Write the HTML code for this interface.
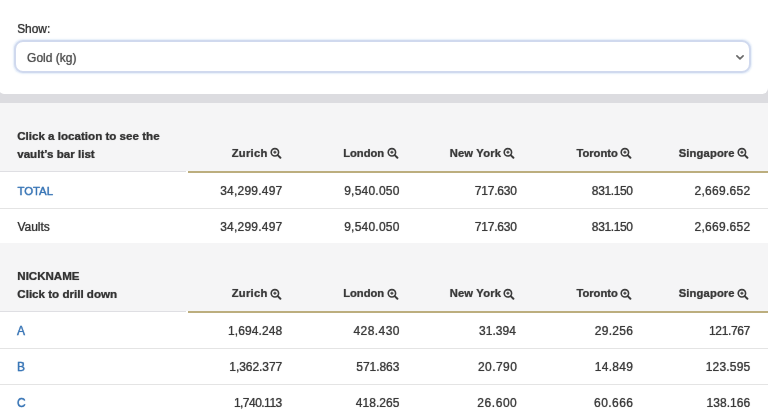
<!DOCTYPE html>
<html><head><meta charset="utf-8"><style>
html,body{margin:0;padding:0;}
body{width:768px;height:417px;overflow:hidden;position:relative;background:#fff;font-family:"Liberation Sans",sans-serif;}
#root{will-change:transform;position:absolute;left:0;top:0;width:768px;height:417px;overflow:hidden;background:#fff;}
.t{position:absolute;white-space:nowrap;}
.t,.ch{text-shadow:0 0 1px rgba(60,60,60,0.45);-webkit-text-stroke:0.2px currentColor;}
.lk{-webkit-text-stroke:0.3px currentColor;text-shadow:0 0 1px rgba(40,90,150,0.5);}
.sel{position:absolute;box-sizing:border-box;left:14.2px;top:40.3px;width:736.7px;height:32.6px;border:2px solid #d0d9ee;border-radius:9px;background:#fff;box-shadow:0 0 1.5px 0.5px rgba(210,225,245,0.6);}
.hd{position:absolute;left:0;width:768px;background:#f5f5f6;}
.gl{position:absolute;left:0;width:186px;height:1px;background:#dfdfe3;}
.gd{position:absolute;left:188px;width:580px;height:2px;background:#bcae7e;}
.rl{position:absolute;left:0;width:768px;height:1px;background:#e4e4e4;}
.ch{position:absolute;white-space:nowrap;font-size:11.2px;line-height:13px;font-weight:700;color:#3a3a3a;display:flex;align-items:center;}
.ic{margin-left:2.3px;}
</style></head><body><div id="root">
<div style="position:absolute;left:0;top:86px;width:768px;height:17px;background:#dcdce0"></div>
<div style="position:absolute;left:-1px;top:0;width:769px;height:94px;background:#fff;border-radius:0 0 6px 5px"></div>
<div class="t" style="left:17.2px;top:21.74px;font-size:11.9px;line-height:14.28px;font-weight:400;color:#333;">Show:</div>
<div class="sel"></div>
<div class="t" style="left:27.1px;top:50.94px;font-size:12px;line-height:14.4px;font-weight:400;color:#505050;">Gold (kg)</div>
<svg style="position:absolute;left:735px;top:54px" width="10" height="7" viewBox="0 0 10 7"><path d="M1.9 1.8 L5 4.8 L8.1 1.8" fill="none" stroke="#6a6a6a" stroke-width="1.7" stroke-linecap="round" stroke-linejoin="round"/></svg>
<div class="hd" style="top:103px;height:68px"></div>
<div class="gl" style="top:171px"></div><div class="gd" style="top:170.9px"></div>
<div class="t" style="left:17.2px;top:128.92px;font-size:11.6px;line-height:13.92px;font-weight:700;color:#333;">Click a location to see the</div>
<div class="t" style="left:17.2px;top:146.52px;font-size:11.6px;line-height:13.92px;font-weight:700;color:#333;">vault’s bar list</div>
<div class="ch" style="right:486.30px;top:146.92px"><span style="letter-spacing:0.3px;margin-right:-0.3px">Zurich</span><svg class="ic" width="12" height="12" viewBox="0 0 12 12"><circle cx="4.9" cy="5.3" r="3.7" fill="none" stroke="#3c3c3c" stroke-width="1.6"/><path d="M7.7 8.1 L10.4 10.7" stroke="#3c3c3c" stroke-width="2" stroke-linecap="round"/><path d="M3.4 5.3H6.4M4.9 3.8V6.8" stroke="#4a4a4a" stroke-width="1.4"/></svg></div>
<div class="ch" style="right:369.50px;top:146.92px"><span style="letter-spacing:0px;margin-right:0px">London</span><svg class="ic" width="12" height="12" viewBox="0 0 12 12"><circle cx="4.9" cy="5.3" r="3.7" fill="none" stroke="#3c3c3c" stroke-width="1.6"/><path d="M7.7 8.1 L10.4 10.7" stroke="#3c3c3c" stroke-width="2" stroke-linecap="round"/><path d="M3.4 5.3H6.4M4.9 3.8V6.8" stroke="#4a4a4a" stroke-width="1.4"/></svg></div>
<div class="ch" style="right:252.70px;top:146.92px"><span style="letter-spacing:0.2px;margin-right:-0.2px">New York</span><svg class="ic" width="12" height="12" viewBox="0 0 12 12"><circle cx="4.9" cy="5.3" r="3.7" fill="none" stroke="#3c3c3c" stroke-width="1.6"/><path d="M7.7 8.1 L10.4 10.7" stroke="#3c3c3c" stroke-width="2" stroke-linecap="round"/><path d="M3.4 5.3H6.4M4.9 3.8V6.8" stroke="#4a4a4a" stroke-width="1.4"/></svg></div>
<div class="ch" style="right:135.90px;top:146.92px"><span style="letter-spacing:0px;margin-right:0px">Toronto</span><svg class="ic" width="12" height="12" viewBox="0 0 12 12"><circle cx="4.9" cy="5.3" r="3.7" fill="none" stroke="#3c3c3c" stroke-width="1.6"/><path d="M7.7 8.1 L10.4 10.7" stroke="#3c3c3c" stroke-width="2" stroke-linecap="round"/><path d="M3.4 5.3H6.4M4.9 3.8V6.8" stroke="#4a4a4a" stroke-width="1.4"/></svg></div>
<div class="ch" style="right:19.10px;top:146.92px"><span style="letter-spacing:0.14px;margin-right:-0.14px">Singapore</span><svg class="ic" width="12" height="12" viewBox="0 0 12 12"><circle cx="4.9" cy="5.3" r="3.7" fill="none" stroke="#3c3c3c" stroke-width="1.6"/><path d="M7.7 8.1 L10.4 10.7" stroke="#3c3c3c" stroke-width="2" stroke-linecap="round"/><path d="M3.4 5.3H6.4M4.9 3.8V6.8" stroke="#4a4a4a" stroke-width="1.4"/></svg></div>
<div class="t lk" style="left:17.4px;top:184.81px;font-size:11.4px;line-height:13.68px;font-weight:400;color:#3a77b8;">TOTAL</div>
<div class="t n n0_0" style="right:485.80px;top:183.64px;font-size:12px;line-height:14.4px;font-weight:400;color:#3a3a3a;letter-spacing:0.211px;margin-right:-0.211px;">34,299.497</div>
<div class="t n n0_1" style="right:368.60px;top:183.64px;font-size:12px;line-height:14.4px;font-weight:400;color:#3a3a3a;letter-spacing:0.225px;margin-right:-0.225px;">9,540.050</div>
<div class="t n n0_2" style="right:251.20px;top:183.64px;font-size:12px;line-height:14.4px;font-weight:400;color:#3a3a3a;letter-spacing:-0.233px;margin-right:0.233px;">717.630</div>
<div class="t n n0_3" style="right:135.00px;top:183.64px;font-size:12px;line-height:14.4px;font-weight:400;color:#3a3a3a;letter-spacing:-0.367px;margin-right:0.367px;">831.150</div>
<div class="t n n0_4" style="right:17.80px;top:183.64px;font-size:12px;line-height:14.4px;font-weight:400;color:#3a3a3a;letter-spacing:0.300px;margin-right:-0.300px;">2,669.652</div>
<div class="t" style="left:17.4px;top:220.24px;font-size:12px;line-height:14.4px;font-weight:400;color:#333;">Vaults</div>
<div class="t n n1_0" style="right:485.80px;top:219.64px;font-size:12px;line-height:14.4px;font-weight:400;color:#3a3a3a;letter-spacing:0.211px;margin-right:-0.211px;">34,299.497</div>
<div class="t n n1_1" style="right:368.60px;top:219.64px;font-size:12px;line-height:14.4px;font-weight:400;color:#3a3a3a;letter-spacing:0.225px;margin-right:-0.225px;">9,540.050</div>
<div class="t n n1_2" style="right:251.20px;top:219.64px;font-size:12px;line-height:14.4px;font-weight:400;color:#3a3a3a;letter-spacing:-0.233px;margin-right:0.233px;">717.630</div>
<div class="t n n1_3" style="right:135.00px;top:219.64px;font-size:12px;line-height:14.4px;font-weight:400;color:#3a3a3a;letter-spacing:-0.367px;margin-right:0.367px;">831.150</div>
<div class="t n n1_4" style="right:17.80px;top:219.64px;font-size:12px;line-height:14.4px;font-weight:400;color:#3a3a3a;letter-spacing:0.300px;margin-right:-0.300px;">2,669.652</div>
<div class="rl" style="top:208px"></div>
<div class="hd" style="top:243px;height:68px"></div>
<div class="gl" style="top:310.9px;height:1.5px"></div><div class="gd" style="top:310.6px"></div>
<div class="t" style="left:17.3px;top:269.67px;font-size:11.55px;line-height:13.86px;font-weight:700;color:#333;">NICKNAME</div>
<div class="t" style="left:17.3px;top:287.02px;font-size:11.6px;line-height:13.92px;font-weight:700;color:#333;">Click to drill down</div>
<div class="ch" style="right:486.30px;top:287.42px"><span style="letter-spacing:0.3px;margin-right:-0.3px">Zurich</span><svg class="ic" width="12" height="12" viewBox="0 0 12 12"><circle cx="4.9" cy="5.3" r="3.7" fill="none" stroke="#3c3c3c" stroke-width="1.6"/><path d="M7.7 8.1 L10.4 10.7" stroke="#3c3c3c" stroke-width="2" stroke-linecap="round"/><path d="M3.4 5.3H6.4M4.9 3.8V6.8" stroke="#4a4a4a" stroke-width="1.4"/></svg></div>
<div class="ch" style="right:369.50px;top:287.42px"><span style="letter-spacing:0px;margin-right:0px">London</span><svg class="ic" width="12" height="12" viewBox="0 0 12 12"><circle cx="4.9" cy="5.3" r="3.7" fill="none" stroke="#3c3c3c" stroke-width="1.6"/><path d="M7.7 8.1 L10.4 10.7" stroke="#3c3c3c" stroke-width="2" stroke-linecap="round"/><path d="M3.4 5.3H6.4M4.9 3.8V6.8" stroke="#4a4a4a" stroke-width="1.4"/></svg></div>
<div class="ch" style="right:252.70px;top:287.42px"><span style="letter-spacing:0.2px;margin-right:-0.2px">New York</span><svg class="ic" width="12" height="12" viewBox="0 0 12 12"><circle cx="4.9" cy="5.3" r="3.7" fill="none" stroke="#3c3c3c" stroke-width="1.6"/><path d="M7.7 8.1 L10.4 10.7" stroke="#3c3c3c" stroke-width="2" stroke-linecap="round"/><path d="M3.4 5.3H6.4M4.9 3.8V6.8" stroke="#4a4a4a" stroke-width="1.4"/></svg></div>
<div class="ch" style="right:135.90px;top:287.42px"><span style="letter-spacing:0px;margin-right:0px">Toronto</span><svg class="ic" width="12" height="12" viewBox="0 0 12 12"><circle cx="4.9" cy="5.3" r="3.7" fill="none" stroke="#3c3c3c" stroke-width="1.6"/><path d="M7.7 8.1 L10.4 10.7" stroke="#3c3c3c" stroke-width="2" stroke-linecap="round"/><path d="M3.4 5.3H6.4M4.9 3.8V6.8" stroke="#4a4a4a" stroke-width="1.4"/></svg></div>
<div class="ch" style="right:19.10px;top:287.42px"><span style="letter-spacing:0.14px;margin-right:-0.14px">Singapore</span><svg class="ic" width="12" height="12" viewBox="0 0 12 12"><circle cx="4.9" cy="5.3" r="3.7" fill="none" stroke="#3c3c3c" stroke-width="1.6"/><path d="M7.7 8.1 L10.4 10.7" stroke="#3c3c3c" stroke-width="2" stroke-linecap="round"/><path d="M3.4 5.3H6.4M4.9 3.8V6.8" stroke="#4a4a4a" stroke-width="1.4"/></svg></div>
<div class="t lk" style="left:17.0px;top:324.24px;font-size:12px;line-height:14.4px;font-weight:400;color:#3a77b8;">A</div>
<div class="t n n2_0" style="right:485.80px;top:323.64px;font-size:12px;line-height:14.4px;font-weight:400;color:#3a3a3a;letter-spacing:0.100px;margin-right:-0.100px;">1,694.248</div>
<div class="t n n2_1" style="right:368.60px;top:323.64px;font-size:12px;line-height:14.4px;font-weight:400;color:#3a3a3a;letter-spacing:0.417px;margin-right:-0.417px;">428.430</div>
<div class="t n n2_2" style="right:252.20px;top:323.64px;font-size:12px;line-height:14.4px;font-weight:400;color:#3a3a3a;letter-spacing:0.020px;margin-right:-0.020px;">31.394</div>
<div class="t n n2_3" style="right:135.00px;top:323.64px;font-size:12px;line-height:14.4px;font-weight:400;color:#3a3a3a;letter-spacing:0.300px;margin-right:-0.300px;">29.256</div>
<div class="t n n2_4" style="right:17.80px;top:323.64px;font-size:12px;line-height:14.4px;font-weight:400;color:#3a3a3a;letter-spacing:-0.367px;margin-right:0.367px;">121.767</div>
<div class="t lk" style="left:17.0px;top:360.24px;font-size:12px;line-height:14.4px;font-weight:400;color:#3a77b8;">B</div>
<div class="t n n3_0" style="right:485.80px;top:359.64px;font-size:12px;line-height:14.4px;font-weight:400;color:#3a3a3a;letter-spacing:-0.062px;margin-right:0.062px;">1,362.377</div>
<div class="t n n3_1" style="right:368.60px;top:359.64px;font-size:12px;line-height:14.4px;font-weight:400;color:#3a3a3a;letter-spacing:-0.050px;margin-right:0.050px;">571.863</div>
<div class="t n n3_2" style="right:251.20px;top:359.64px;font-size:12px;line-height:14.4px;font-weight:400;color:#3a3a3a;letter-spacing:0.440px;margin-right:-0.440px;">20.790</div>
<div class="t n n3_3" style="right:135.00px;top:359.64px;font-size:12px;line-height:14.4px;font-weight:400;color:#3a3a3a;letter-spacing:0.320px;margin-right:-0.320px;">14.849</div>
<div class="t n n3_4" style="right:17.80px;top:359.64px;font-size:12px;line-height:14.4px;font-weight:400;color:#3a3a3a;letter-spacing:0.183px;margin-right:-0.183px;">123.595</div>
<div class="t lk" style="left:17.0px;top:396.24px;font-size:12px;line-height:14.4px;font-weight:400;color:#3a77b8;">C</div>
<div class="t n n4_0" style="right:485.80px;top:395.64px;font-size:12px;line-height:14.4px;font-weight:400;color:#3a3a3a;letter-spacing:-0.525px;margin-right:0.525px;">1,740.113</div>
<div class="t n n4_1" style="right:368.60px;top:395.64px;font-size:12px;line-height:14.4px;font-weight:400;color:#3a3a3a;letter-spacing:0.050px;margin-right:-0.050px;">418.265</div>
<div class="t n n4_2" style="right:251.20px;top:395.64px;font-size:12px;line-height:14.4px;font-weight:400;color:#3a3a3a;letter-spacing:0.560px;margin-right:-0.560px;">26.600</div>
<div class="t n n4_3" style="right:135.00px;top:395.64px;font-size:12px;line-height:14.4px;font-weight:400;color:#3a3a3a;letter-spacing:0.440px;margin-right:-0.440px;">60.666</div>
<div class="t n n4_4" style="right:17.80px;top:395.64px;font-size:12px;line-height:14.4px;font-weight:400;color:#3a3a3a;letter-spacing:0.067px;margin-right:-0.067px;">138.166</div>
<div class="rl" style="top:348px"></div>
<div class="rl" style="top:384px"></div>
</div></body></html>
